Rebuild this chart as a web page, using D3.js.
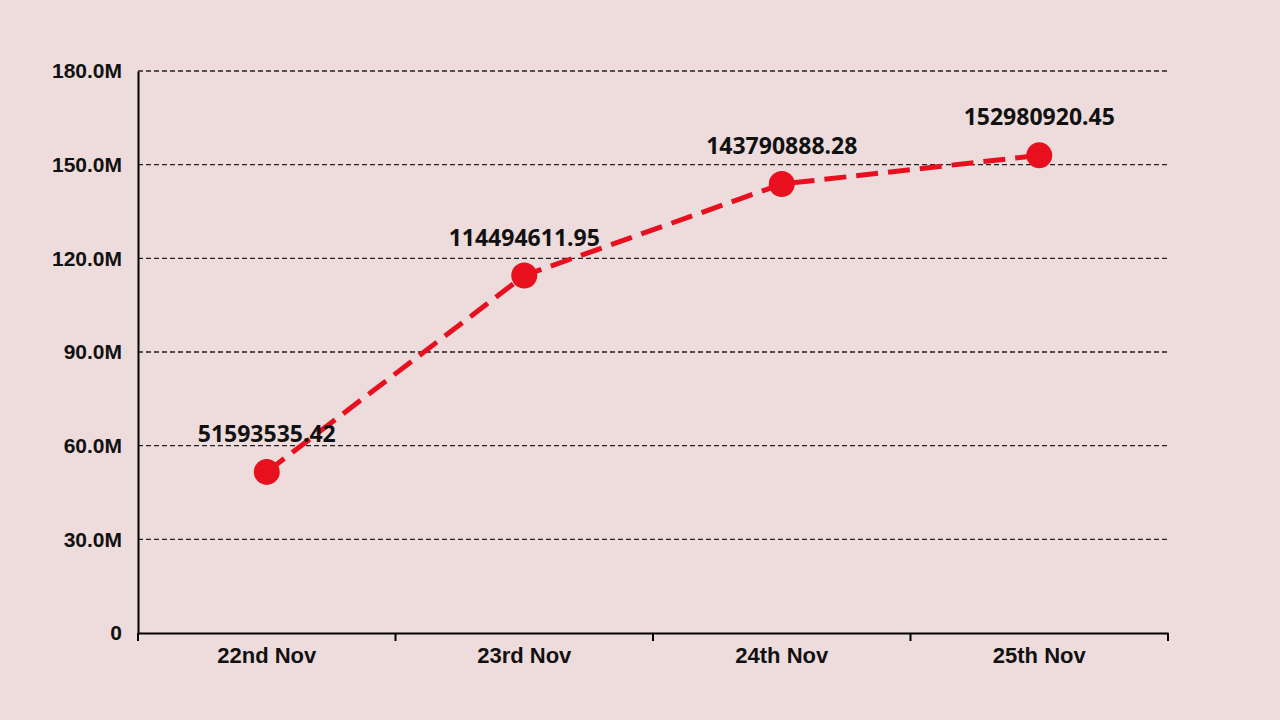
<!DOCTYPE html>
<html><head><meta charset="utf-8">
<script src="https://cdn.jsdelivr.net/npm/d3@7"></script>
<style>body{margin:0;background:#eedcdc;}svg{display:block;font-family:"Noto Sans","Open Sans",sans-serif;}</style>
</head><body><svg width="1280" height="720"></svg>
<script>
const categories = ["22nd Nov","23rd Nov","24th Nov","25th Nov"];
const values = [51593535.42,114494611.95,143790888.28,152980920.45];
const labels = ["51593535.42","114494611.95","143790888.28","152980920.45"];
const yTicks = [0,30e6,60e6,90e6,120e6,150e6,180e6];

const svg = d3.select("svg");
const L=138,R=1168,T=71,B=633;
const x = d3.scaleBand().domain(categories).range([L,R]);
const y = d3.scaleLinear().domain([0,180e6]).range([B,T]);

svg.append("g").selectAll("line").data(yTicks.slice(1)).join("line")
  .attr("x1",L).attr("x2",R).attr("y1",d=>y(d)).attr("y2",d=>y(d))
  .attr("stroke","#222").attr("stroke-width",1.3).attr("stroke-dasharray","5,3");

const ya = svg.append("g").attr("transform",`translate(${L},0)`)
  .call(d3.axisLeft(y).tickValues(yTicks).tickSize(0).tickPadding(16)
    .tickFormat(d=>d===0?"0":(d/1e6).toFixed(1)+"M"));
ya.select(".domain").attr("stroke","#000").attr("stroke-width",2);
ya.selectAll("text").attr("font-size",21).attr("font-weight","bold").attr("fill","#111");

const xa = svg.append("g").attr("transform",`translate(0,${B})`)
  .call(d3.axisBottom(x).tickSize(0).tickPadding(14));
xa.select(".domain").attr("stroke","#000").attr("stroke-width",2);
xa.selectAll("text").attr("font-size",22).attr("font-weight","bold").attr("fill","#111");
xa.selectAll(".bt").data(d3.range(categories.length+1)).join("line")
  .attr("x1",i=>L+i*x.step()).attr("x2",i=>L+i*x.step()).attr("y1",0).attr("y2",8)
  .attr("stroke","#000").attr("stroke-width",2);

const cx = d=>x(d)+x.bandwidth()/2;
const pts = categories.map((c,i)=>[cx(c),y(values[i])]);
svg.append("path").datum(pts).attr("d",d3.line())
  .attr("fill","none").attr("stroke","#e8101f").attr("stroke-width",5).attr("stroke-dasharray","22,10");
svg.selectAll("circle.p").data(pts).join("circle").attr("cx",d=>d[0]).attr("cy",d=>d[1]).attr("r",13).attr("fill","#e8101f");
svg.selectAll("text.lbl").data(pts).join("text").attr("x",d=>d[0]).attr("y",d=>d[1]-30)
  .attr("text-anchor","middle").attr("font-size",23).attr("font-weight","bold").attr("fill","#111")
  .text((d,i)=>labels[i]);
</script></body></html>
